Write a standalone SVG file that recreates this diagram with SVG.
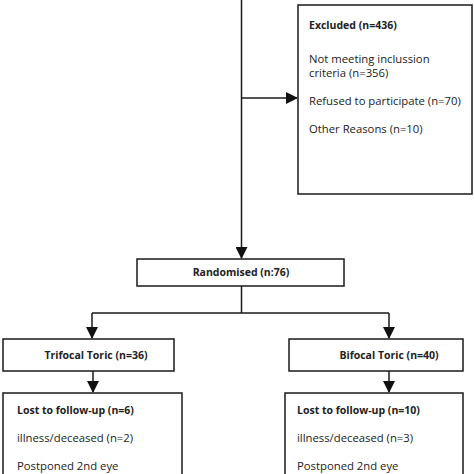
<svg xmlns="http://www.w3.org/2000/svg" width="474" height="474" viewBox="0 0 474 474">
<style>
.box{fill:#fff;stroke:#1a1a1a;stroke-width:1.5}
.ln{fill:none;stroke:#1a1a1a;stroke-width:1.5}
text{font-family:"Open Sans","Noto Sans",sans-serif;font-size:11.3px;fill:#222}
.b{font-weight:bold;font-size:10.5px}
</style>
<defs>
<marker id="ah" markerWidth="12" markerHeight="12" refX="11" refY="6" orient="auto" markerUnits="userSpaceOnUse">
<path d="M0,0 L12,6 L0,12 Z" fill="#111"/>
</marker>
</defs>
<rect width="474" height="474" fill="#fff"/>
<g id="connectors">
<line class="ln" x1="241.5" y1="0" x2="241.5" y2="258" marker-end="url(#ah)"/>
<line class="ln" x1="241.5" y1="98" x2="297" y2="98" marker-end="url(#ah)"/>
<polyline class="ln" points="241.5,286 241.5,313"/>
<polyline class="ln" points="92,313 389,313"/>
<line class="ln" x1="92" y1="313" x2="92" y2="338" marker-end="url(#ah)"/>
<line class="ln" x1="389" y1="313" x2="389" y2="338" marker-end="url(#ah)"/>
<line class="ln" x1="93" y1="371" x2="93" y2="392" marker-end="url(#ah)"/>
<line class="ln" x1="389" y1="371" x2="389" y2="392" marker-end="url(#ah)"/>
</g>
<g id="excluded">
<rect class="box" x="298" y="5" width="174" height="189"/>
<text class="b" x="309" y="29">Excluded (n=436)</text>
<text x="309" y="63">Not meeting inclussion</text>
<text x="309" y="77">criteria (n=356)</text>
<text x="309" y="105">Refused to participate (n=70)</text>
<text x="309" y="133">Other Reasons (n=10)</text>
</g>
<g id="randomised">
<rect class="box" x="137" y="259" width="207" height="27"/>
<text class="b" x="241" y="276" text-anchor="middle">Randomised (n:76)</text>
</g>
<g id="trifocal">
<rect class="box" x="3" y="339" width="171" height="32"/>
<text class="b" x="96" y="359" text-anchor="middle">Trifocal Toric (n=36)</text>
</g>
<g id="bifocal">
<rect class="box" x="289" y="339" width="174" height="32"/>
<text class="b" x="389" y="359" text-anchor="middle">Bifocal Toric (n=40)</text>
</g>
<g id="lost-left">
<rect class="box" x="3" y="393" width="179" height="90"/>
<text class="b" x="17" y="414">Lost to follow-up (n=6)</text>
<text x="17" y="442">illness/deceased (n=2)</text>
<text x="17" y="470">Postponed 2nd eye</text>
</g>
<g id="lost-right">
<rect class="box" x="285" y="393" width="178" height="90"/>
<text class="b" x="297" y="414">Lost to follow-up (n=10)</text>
<text x="297" y="442">illness/deceased (n=3)</text>
<text x="297" y="470">Postponed 2nd eye</text>
</g>
</svg>
